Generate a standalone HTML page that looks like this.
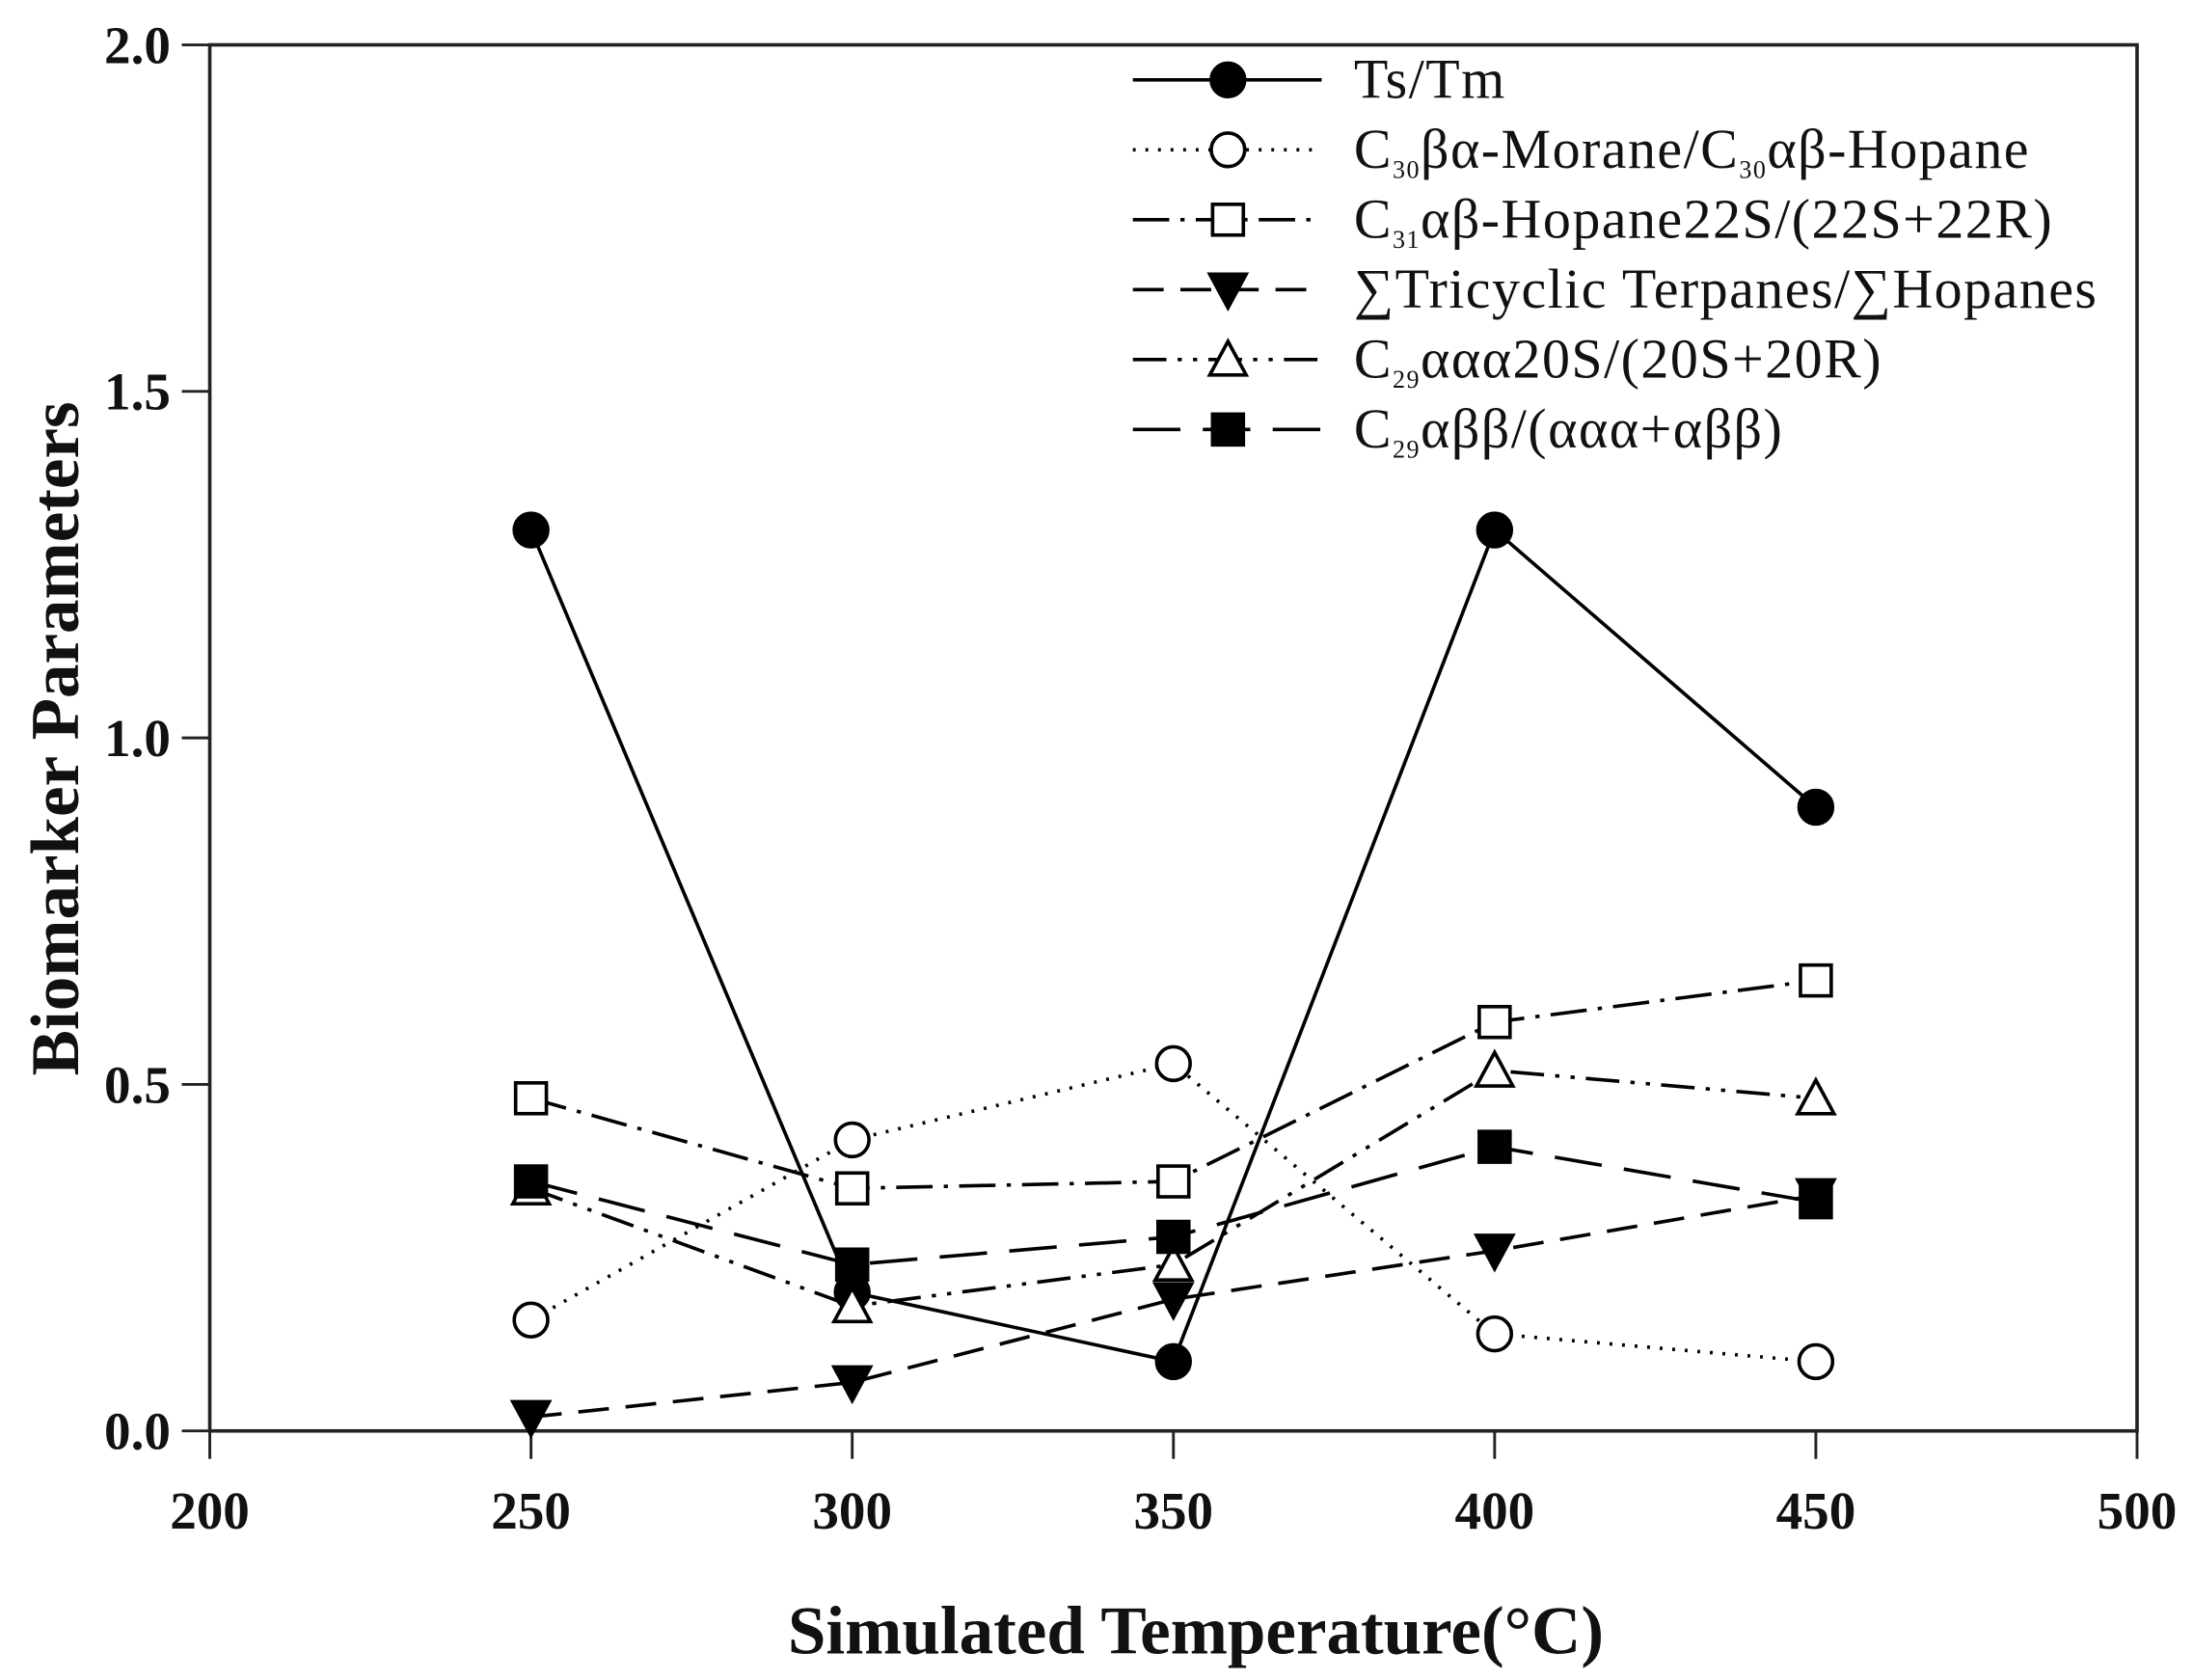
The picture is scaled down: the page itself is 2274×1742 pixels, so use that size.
<!DOCTYPE html>
<html><head><meta charset="utf-8"><style>
html,body{margin:0;padding:0;background:#fff}
svg{display:block}
text{font-family:"Liberation Serif",serif;fill:#111}
</style></head><body>
<svg id="chart" width="2274" height="1742" viewBox="0 0 1568 1201" xmlns="http://www.w3.org/2000/svg">
<g id="axes"></g>
<g id="series"></g>
<g id="legend"></g>
<text transform="translate(56,528) rotate(-90)" text-anchor="middle" font-weight="bold" font-size="49">Biomarker Parameters</text>
<text x="855" y="1182" text-anchor="middle" font-weight="bold" font-size="49">Simulated Temperature(°C)</text>
</svg>
<script>
const temps=[250,300,350,400,450];
const tsTm=[1.3,0.2,0.1,1.3,0.9];
const morane=[0.16,0.42,0.53,0.14,0.10];
const hopane22S=[0.48,0.35,0.36,0.59,0.65];
const tricyclic=[0.02,0.07,0.19,0.26,0.34];
const c29s=[0.35,0.18,0.24,0.52,0.48];
const c29abb=[0.36,0.24,0.28,0.41,0.33];
const xTicks=[200,250,300,350,400,450,500];
const yTicks=[0.0,0.5,1.0,1.5,2.0];
const L=150,R=1528,T=32,B=1023;
const xs=v=>L+(v-200)/300*(R-L);
const ys=v=>B-v/2*(B-T);
const NS='http://www.w3.org/2000/svg';
function mk(tag,attrs,parent){const e=document.createElementNS(NS,tag);for(const k in attrs)e.setAttribute(k,attrs[k]);parent.appendChild(e);return e;}
const ax=document.getElementById('axes');
let f=mk('rect',{x:L,y:T,width:R-L,height:B-T,fill:'none',stroke:'#222','stroke-width':2.5},ax);


xTicks.forEach(t=>{
 let l=mk('line',{x1:xs(t),x2:xs(t),y1:B,y2:B+20,stroke:'#222','stroke-width':2},ax);
 
 
 let tx=mk('text',{x:xs(t),y:B+70,'text-anchor':'middle','font-weight':'bold','font-size':38},ax);
 
 
 tx.textContent=t;
});
yTicks.forEach(t=>{
 let l=mk('line',{x1:L-20,x2:L,y1:ys(t),y2:ys(t),stroke:'#222','stroke-width':2},ax);
 
 
 let tx=mk('text',{x:L-28,y:ys(t)+13,'text-anchor':'end','font-weight':'bold','font-size':38},ax);
 
 
 tx.textContent=t.toFixed(1);
});
const defs=[
 {name:'ts-tm',vals:tsTm,dash:'',m:'circle',fill:'#000',label:'Ts/Tm'},
 {name:'morane-hopane',vals:morane,dash:'2,7',m:'circle',fill:'#fff',label:'C<tspan font-size="18" dy="7">30</tspan><tspan dy="-7">βα-Morane/C</tspan><tspan font-size="18" dy="7">30</tspan><tspan dy="-7">αβ-Hopane</tspan>'},
 {name:'hopane-22s',vals:hopane22S,dash:'26,8,3,8',m:'square',fill:'#fff',label:'C<tspan font-size="18" dy="7">31</tspan><tspan dy="-7">αβ-Hopane22S/(22S+22R)</tspan>'},
 {name:'tricyclic-hopanes',vals:tricyclic,dash:'22,12',m:'tri-down',fill:'#000',label:'∑Tricyclic Terpanes/∑Hopanes'},
 {name:'c29-20s',vals:c29s,dash:'24,8,3,8,3,8',m:'tri-up',fill:'#fff',label:'C<tspan font-size="18" dy="7">29</tspan><tspan dy="-7">ααα20S/(20S+20R)</tspan>'},
 {name:'c29-abb',vals:c29abb,dash:'34,16',m:'square',fill:'#000',label:'C<tspan font-size="18" dy="7">29</tspan><tspan dy="-7">αββ/(ααα+αββ)</tspan>'}
];
function marker(type,cx,cy,fill,parent){
 const st={fill:fill,stroke:'#000','stroke-width':2.5};
 let e;
 if(type==='circle')e=mk('circle',Object.assign({cx:cx,cy:cy,r:12},st),parent);
 else if(type==='square')e=mk('rect',Object.assign({x:cx-11,y:cy-11,width:22,height:22},st),parent);
 else if(type==='tri-down')e=mk('polygon',Object.assign({points:`${cx-13},${cy-11} ${cx+13},${cy-11} ${cx},${cy+13}`},st),parent);
 else e=mk('polygon',Object.assign({points:`${cx-13},${cy+11} ${cx+13},${cy+11} ${cx},${cy-13}`},st),parent);
 return e;
}
const sg=document.getElementById('series');
const lg=document.getElementById('legend');
defs.forEach((d,i)=>{
 const g=mk('g',{},sg);
 
 
 const pts=d.vals.map((v,j)=>xs(temps[j])+','+ys(v)).join(' ');
 const pl=mk('polyline',{points:pts,fill:'none',stroke:'#000','stroke-width':2.5,'stroke-dasharray':d.dash},g);
 
 
 d.vals.forEach((v,j)=>{
  const p=marker(d.m,xs(temps[j]),ys(v),d.fill,g);
  
  
 });
 const ly=57+i*50;
 const e=mk('g',{},lg);
 
 
 mk('line',{x1:810,x2:945,y1:ly,y2:ly,stroke:'#000','stroke-width':2.5,'stroke-dasharray':d.dash},e);
 marker(d.m,878,ly,d.fill,e);
 const t=mk('text',{x:968,y:ly+13,'font-size':40,'letter-spacing':1},e);
 t.innerHTML=d.label;
});
</script>
</body></html>
